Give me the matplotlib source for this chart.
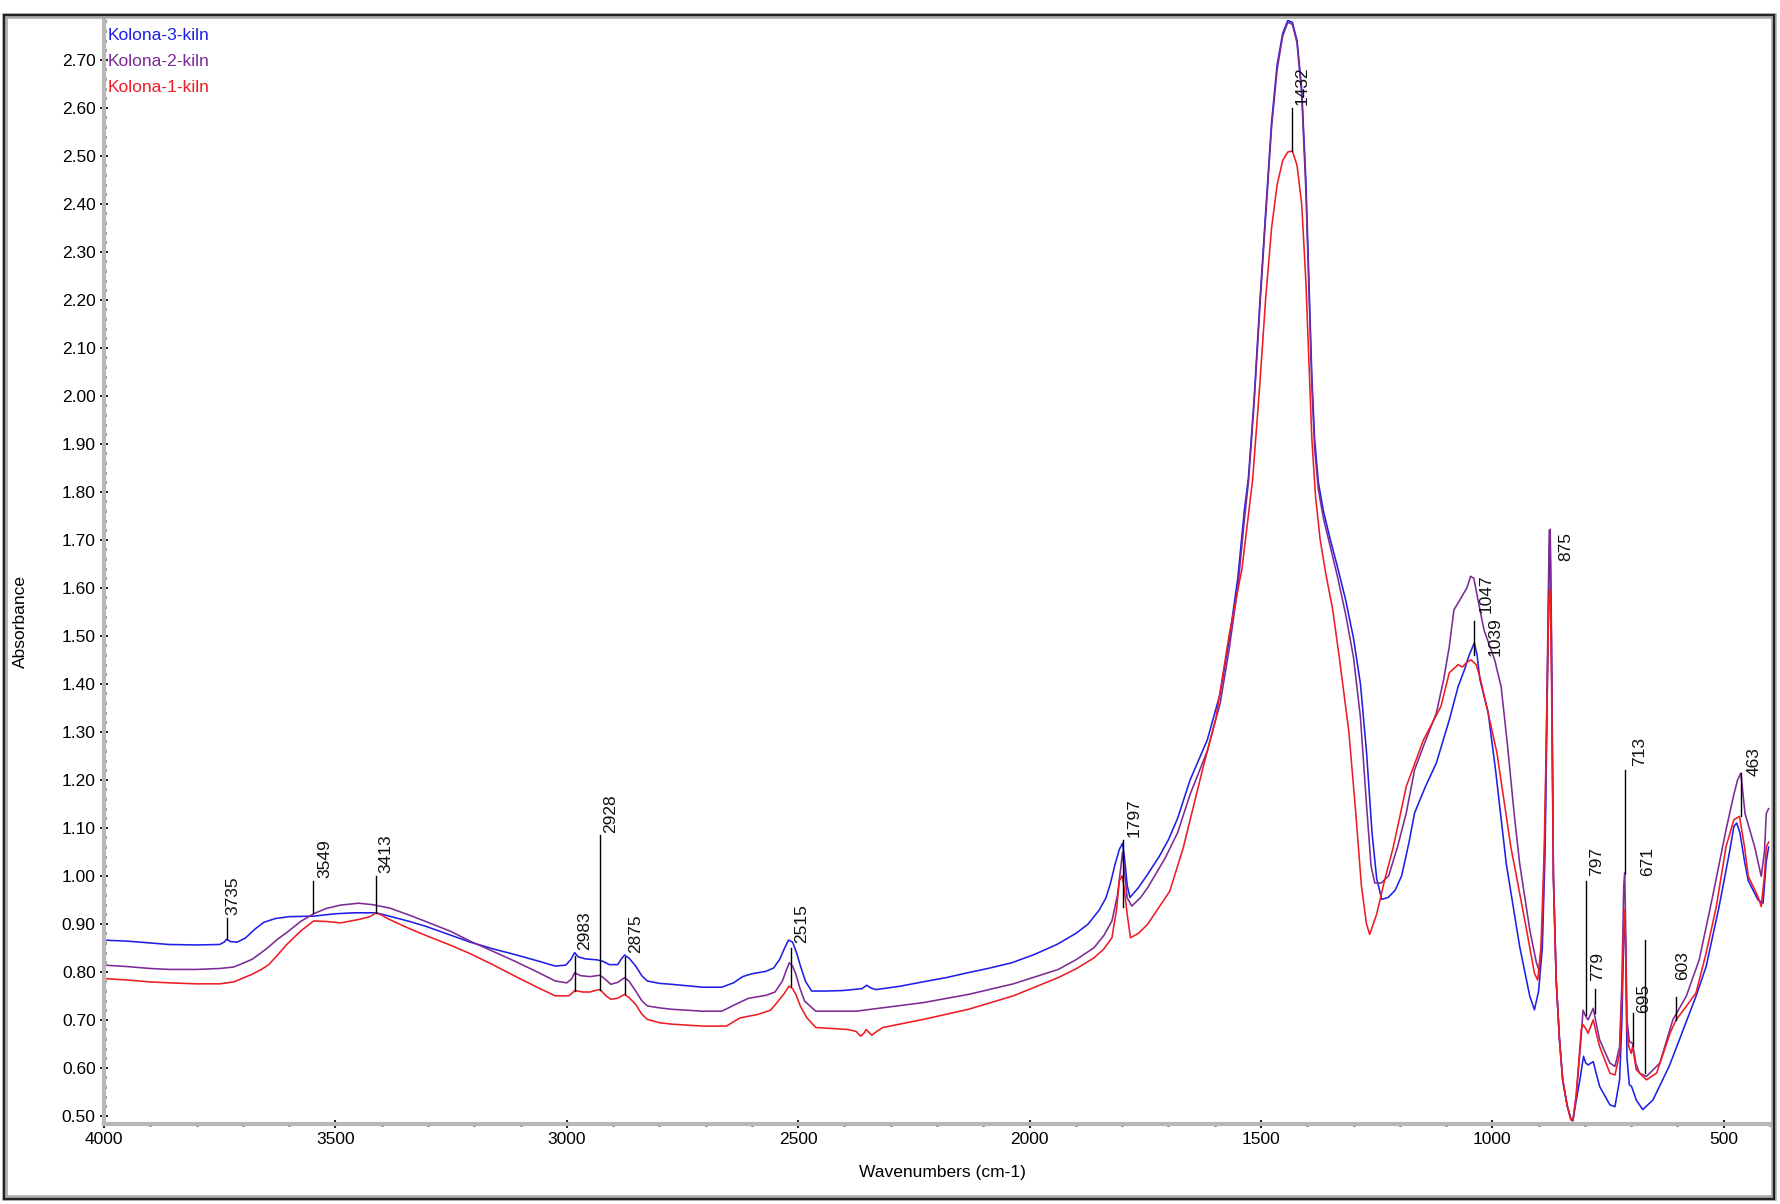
import numpy as np
import matplotlib.pyplot as plt
from matplotlib.ticker import MultipleLocator, FormatStrFormatter
from matplotlib.patches import Rectangle

plt.rcParams['font.family'] = ['Liberation Sans', 'DejaVu Sans']

#================================================================================
# spectra: (wavenumber cm-1, absorbance)
#================================================================================
kolona3 = np.array([
    (4000, 0.866), (3950, 0.864), (3900, 0.860), (3860, 0.857), (3800, 0.856), (3750, 0.857),
    (3740, 0.862), (3735, 0.868), (3727, 0.863), (3712, 0.862), (3695, 0.870), (3675, 0.888),
    (3655, 0.903), (3630, 0.911), (3600, 0.915), (3547, 0.916), (3500, 0.921), (3460, 0.923),
    (3412, 0.923), (3383, 0.916), (3340, 0.905), (3305, 0.895), (3250, 0.876), (3209, 0.862),
    (3160, 0.848), (3112, 0.836), (3060, 0.822), (3025, 0.812), (3002, 0.814), (2991, 0.826),
    (2983, 0.840), (2975, 0.831), (2960, 0.827), (2935, 0.825), (2922, 0.822), (2908, 0.815),
    (2890, 0.815), (2882, 0.827), (2875, 0.835), (2865, 0.828), (2851, 0.812), (2838, 0.792),
    (2826, 0.781), (2800, 0.776), (2773, 0.774), (2707, 0.768), (2665, 0.768), (2640, 0.777),
    (2620, 0.790), (2600, 0.796), (2570, 0.801), (2553, 0.808), (2540, 0.826), (2530, 0.848),
    (2521, 0.866), (2512, 0.862), (2503, 0.838), (2495, 0.812), (2484, 0.780), (2471, 0.760),
    (2440, 0.760), (2404, 0.761), (2362, 0.765), (2352, 0.772), (2342, 0.766), (2332, 0.763),
    (2280, 0.770), (2231, 0.779), (2180, 0.788), (2134, 0.798), (2090, 0.807), (2038, 0.819),
    (1990, 0.836), (1941, 0.857), (1900, 0.880), (1874, 0.899), (1850, 0.928), (1835, 0.954),
    (1825, 0.985), (1815, 1.025), (1806, 1.055), (1799, 1.068), (1794, 1.030), (1789, 0.980),
    (1783, 0.955), (1765, 0.975), (1745, 1.003), (1720, 1.040), (1700, 1.075), (1680, 1.120),
    (1653, 1.200), (1616, 1.283), (1588, 1.380), (1569, 1.490), (1550, 1.620), (1536, 1.760),
    (1527, 1.830), (1515, 1.990), (1502, 2.200), (1490, 2.380), (1477, 2.570), (1465, 2.690),
    (1453, 2.755), (1442, 2.782), (1432, 2.778), (1422, 2.740), (1412, 2.640), (1403, 2.450),
    (1396, 2.230), (1390, 2.040), (1384, 1.910), (1376, 1.820), (1365, 1.760), (1350, 1.700),
    (1335, 1.645), (1317, 1.575), (1300, 1.495), (1285, 1.400), (1272, 1.260), (1260, 1.090),
    (1250, 0.995), (1239, 0.951), (1225, 0.955), (1210, 0.970), (1196, 1.000), (1180, 1.070),
    (1168, 1.131), (1145, 1.185), (1121, 1.235), (1093, 1.325), (1074, 1.394), (1060, 1.430),
    (1050, 1.460), (1039, 1.485), (1033, 1.460), (1027, 1.410), (1009, 1.340), (993, 1.220),
    (970, 1.026), (941, 0.853), (919, 0.749), (909, 0.721), (900, 0.760), (892, 0.850),
    (886, 1.050), (881, 1.400), (877, 1.680), (875, 1.700), (872, 1.450), (868, 1.000),
    (862, 0.783), (855, 0.660), (848, 0.575), (838, 0.520), (830, 0.492), (826, 0.490),
    (819, 0.530), (810, 0.580), (803, 0.624), (798, 0.610), (793, 0.606), (782, 0.613),
    (776, 0.590), (768, 0.561), (746, 0.523), (735, 0.519), (725, 0.575), (720, 0.700),
    (716, 0.880), (714, 0.930), (712, 0.850), (709, 0.620), (704, 0.565), (699, 0.561),
    (689, 0.533), (675, 0.513), (653, 0.533), (618, 0.603), (596, 0.658), (560, 0.749),
    (538, 0.811), (510, 0.936), (488, 1.047), (478, 1.103), (472, 1.110), (465, 1.090),
    (455, 1.030), (447, 0.990), (426, 0.950), (415, 0.943), (408, 1.030), (403, 1.060),
])

kolona2 = np.array([
    (4000, 0.814), (3950, 0.811), (3900, 0.807), (3857, 0.805), (3800, 0.805), (3750, 0.807),
    (3720, 0.810), (3707, 0.815), (3680, 0.826), (3660, 0.840), (3644, 0.852), (3625, 0.868),
    (3605, 0.882), (3575, 0.905), (3547, 0.921), (3520, 0.932), (3489, 0.939), (3450, 0.943),
    (3420, 0.940), (3383, 0.933), (3340, 0.918), (3305, 0.905), (3250, 0.884), (3209, 0.864),
    (3160, 0.843), (3112, 0.822), (3060, 0.798), (3025, 0.781), (3000, 0.777), (2990, 0.785),
    (2983, 0.798), (2970, 0.792), (2950, 0.790), (2928, 0.793), (2915, 0.783), (2905, 0.774),
    (2890, 0.778), (2875, 0.788), (2865, 0.780), (2851, 0.760), (2838, 0.740), (2826, 0.729),
    (2800, 0.725), (2773, 0.722), (2707, 0.718), (2665, 0.718), (2636, 0.732), (2607, 0.745),
    (2570, 0.751), (2550, 0.758), (2534, 0.781), (2525, 0.805), (2519, 0.819), (2512, 0.812),
    (2505, 0.795), (2496, 0.765), (2486, 0.739), (2462, 0.718), (2375, 0.718), (2326, 0.724),
    (2229, 0.736), (2132, 0.753), (2035, 0.775), (1938, 0.805), (1900, 0.825), (1861, 0.850),
    (1840, 0.875), (1822, 0.906), (1810, 0.960), (1803, 1.016), (1799, 1.050), (1795, 1.010),
    (1789, 0.954), (1779, 0.937), (1760, 0.955), (1745, 0.975), (1707, 1.037), (1680, 1.090),
    (1653, 1.170), (1616, 1.260), (1588, 1.360), (1569, 1.470), (1550, 1.600), (1536, 1.740),
    (1527, 1.820), (1515, 1.980), (1502, 2.190), (1490, 2.370), (1477, 2.560), (1465, 2.680),
    (1453, 2.750), (1442, 2.778), (1432, 2.774), (1422, 2.735), (1412, 2.630), (1403, 2.430),
    (1396, 2.210), (1390, 2.020), (1384, 1.890), (1376, 1.805), (1365, 1.745), (1350, 1.685),
    (1335, 1.625), (1317, 1.545), (1300, 1.455), (1285, 1.330), (1272, 1.150), (1262, 1.020),
    (1254, 0.985), (1240, 0.985), (1224, 1.000), (1205, 1.060), (1186, 1.131), (1168, 1.221),
    (1145, 1.280), (1121, 1.339), (1105, 1.410), (1093, 1.478), (1083, 1.554), (1070, 1.575),
    (1055, 1.600), (1047, 1.624), (1040, 1.620), (1030, 1.570), (1018, 1.512), (995, 1.450),
    (981, 1.394), (967, 1.270), (953, 1.131), (941, 1.026), (919, 0.887), (905, 0.820),
    (898, 0.800), (892, 0.880), (886, 1.100), (881, 1.450), (877, 1.720), (875, 1.722),
    (872, 1.500), (868, 1.000), (862, 0.783), (855, 0.660), (848, 0.575), (838, 0.520),
    (830, 0.492), (826, 0.490), (819, 0.540), (810, 0.640), (804, 0.720), (797, 0.705),
    (793, 0.700), (782, 0.724), (775, 0.690), (768, 0.658), (746, 0.610), (735, 0.603),
    (725, 0.644), (720, 0.780), (716, 0.980), (714, 1.006), (712, 0.900), (709, 0.700),
    (704, 0.655), (697, 0.651), (690, 0.610), (682, 0.589), (667, 0.582), (638, 0.610),
    (610, 0.700), (581, 0.749), (553, 0.825), (524, 0.957), (495, 1.096), (478, 1.170),
    (470, 1.200), (463, 1.214), (454, 1.130), (433, 1.060), (419, 0.999), (412, 1.050),
    (408, 1.130), (403, 1.140),
])

kolona1 = np.array([
    (4000, 0.786), (3950, 0.783), (3900, 0.779), (3857, 0.777), (3800, 0.775), (3750, 0.775),
    (3720, 0.779), (3707, 0.784), (3680, 0.795), (3660, 0.805), (3644, 0.815), (3625, 0.835),
    (3605, 0.857), (3575, 0.885), (3547, 0.906), (3520, 0.905), (3489, 0.902), (3450, 0.909),
    (3425, 0.915), (3412, 0.923), (3400, 0.918), (3383, 0.909), (3340, 0.890), (3305, 0.876),
    (3250, 0.855), (3209, 0.838), (3160, 0.815), (3112, 0.791), (3060, 0.766), (3025, 0.750),
    (2996, 0.750), (2988, 0.756), (2983, 0.761), (2965, 0.758), (2950, 0.758), (2935, 0.762),
    (2928, 0.763), (2915, 0.750), (2905, 0.743), (2890, 0.745), (2875, 0.753), (2865, 0.746),
    (2851, 0.732), (2838, 0.712), (2826, 0.701), (2800, 0.694), (2773, 0.691), (2707, 0.687),
    (2655, 0.687), (2626, 0.704), (2588, 0.711), (2560, 0.720), (2549, 0.732), (2530, 0.755),
    (2520, 0.770), (2512, 0.765), (2505, 0.753), (2495, 0.728), (2481, 0.704), (2462, 0.684),
    (2394, 0.680), (2375, 0.676), (2365, 0.666), (2358, 0.672), (2353, 0.680), (2347, 0.674),
    (2341, 0.668), (2330, 0.676), (2317, 0.684), (2229, 0.701), (2132, 0.722), (2035, 0.750),
    (1938, 0.788), (1900, 0.806), (1861, 0.829), (1840, 0.847), (1822, 0.871), (1812, 0.930),
    (1806, 0.990), (1800, 1.000), (1795, 0.970), (1789, 0.920), (1782, 0.871), (1765, 0.880),
    (1745, 0.899), (1720, 0.935), (1697, 0.968), (1668, 1.058), (1625, 1.226), (1597, 1.330),
    (1569, 1.500), (1541, 1.640), (1518, 1.825), (1502, 2.030), (1490, 2.200), (1477, 2.350),
    (1465, 2.440), (1453, 2.490), (1442, 2.508), (1432, 2.510), (1422, 2.480), (1412, 2.400),
    (1403, 2.240), (1396, 2.060), (1390, 1.910), (1382, 1.790), (1372, 1.700), (1360, 1.630),
    (1345, 1.555), (1330, 1.450), (1310, 1.300), (1295, 1.130), (1283, 0.980), (1272, 0.900),
    (1265, 0.878), (1250, 0.920), (1233, 0.990), (1214, 1.060), (1186, 1.186), (1149, 1.283),
    (1111, 1.353), (1093, 1.423), (1074, 1.440), (1065, 1.435), (1055, 1.445), (1046, 1.450),
    (1035, 1.440), (1027, 1.415), (1009, 1.339), (990, 1.256), (971, 1.131), (960, 1.060),
    (948, 1.000), (926, 0.887), (909, 0.797), (902, 0.783), (895, 0.850), (888, 1.050),
    (882, 1.350), (878, 1.580), (875, 1.596), (872, 1.400), (868, 0.990), (862, 0.783),
    (855, 0.660), (848, 0.575), (838, 0.520), (830, 0.492), (826, 0.490), (819, 0.540),
    (808, 0.679), (804, 0.690), (797, 0.680), (793, 0.672), (782, 0.700), (775, 0.670),
    (768, 0.644), (746, 0.589), (735, 0.585), (725, 0.630), (720, 0.750), (716, 0.900),
    (714, 0.930), (712, 0.850), (709, 0.680), (705, 0.644), (700, 0.630), (697, 0.644),
    (689, 0.596), (667, 0.575), (645, 0.589), (616, 0.672), (603, 0.700), (581, 0.728),
    (560, 0.756), (538, 0.839), (516, 0.936), (495, 1.061), (478, 1.117), (466, 1.124),
    (455, 1.060), (447, 0.999), (426, 0.957), (419, 0.936), (412, 1.000), (408, 1.060),
    (403, 1.070),
])

series_names = ['Kolona-3-kiln', 'Kolona-2-kiln', 'Kolona-1-kiln']
series_colors = ['#1f1fe6', '#7d2a96', '#ee1c24']

# peak labels: text, leader x, leader from, leader to, text x, text bottom
peak_text = ['3735', '3549', '3413', '2983', '2928', '2875', '2515', '1797', '1432',
             '1047', '1039', '875', '797', '779', '713', '695', '671', '603', '463']
peak_x = [3735, 3549, 3413, 2983, 2928, 2875, 2515, 1797, 1432,
          1047, 1039, 875, 797, 779, 713, 695, 671, 603, 463]
peak_lo = [0.868, 0.923, 0.923, 0.761, 0.763, 0.753, 0.770, 0.935, 2.510,
           1.624, 1.460, 1.722, 0.710, 0.715, 1.006, 0.645, 0.589, 0.700, 1.124]
peak_hi = [0.912, 0.989, 0.999, 0.833, 1.085, 0.830, 0.850, 1.075, 2.600,
           1.624, 1.530, 1.722, 0.990, 0.765, 1.220, 0.714, 0.867, 0.748, 1.214]
text_x = [3722, 3522, 3390, 2962, 2905, 2852, 2492, 1775, 1410,
          1013, 995, 842, 775, 772, 682, 673, 664, 588, 434]
text_y = [0.918, 0.995, 1.005, 0.845, 1.090, 0.840, 0.860, 1.080, 2.605,
          1.547, 1.457, 1.655, 1.000, 0.780, 1.228, 0.714, 1.000, 0.783, 1.207]

#================================================================================
fig = plt.figure(figsize=(17.8, 12.04), dpi=100)
ax = fig.add_axes([104 / 1780, 1 - 1124 / 1204, (1770 - 104) / 1780, (1124 - 20) / 1204])

for data, name, color in zip([kolona3, kolona2, kolona1], series_names, series_colors):
    ax.plot(data[:, 0], data[:, 1], color=color, lw=1.15, label=name)

# peak annotations
for t, x, lo, hi, tx, ty in zip(peak_text, peak_x, peak_lo, peak_hi, text_x, text_y):
    if hi > lo:
        ax.plot([x, x], [lo, hi], color='black', lw=1.0)
    ax.text(tx, ty, t, rotation=90, ha='center', va='bottom', fontsize=12.5, color='#111111')

ax.set_xlim(4000, 400)
ax.set_ylim(0.483, 2.783)

ax.xaxis.set_major_locator(MultipleLocator(500))
ax.xaxis.set_minor_locator(MultipleLocator(100))
ax.yaxis.set_major_locator(MultipleLocator(0.1))
ax.yaxis.set_minor_locator(MultipleLocator(0.02))
ax.yaxis.set_major_formatter(FormatStrFormatter('%.2f'))

for side in ['top', 'right']:
    ax.spines[side].set_visible(False)
for side in ['left', 'bottom']:
    ax.spines[side].set_color('#b8b8b8')
    ax.spines[side].set_linewidth(3)

ax.tick_params(which='major', length=6, width=1.5, color='#222222', direction='inout',
               labelsize=12.5, pad=3)
ax.tick_params(which='minor', length=2.5, width=2, color='#222222', direction='inout')

# legend is plain coloured text in the top left corner
for i, (name, color) in enumerate(zip(series_names, series_colors)):
    fig.text(108 / 1780, 1 - (35 + 26.5 * i) / 1204, name, color=color, fontsize=12.5,
             ha='left', va='center')

fig.text(942 / 1780, 1 - 1172 / 1204, 'Wavenumbers (cm-1)', fontsize=12.5, ha='center', va='center')
fig.text(20 / 1780, 1 - 622 / 1204, 'Absorbance', fontsize=12.5, rotation=90, ha='center', va='center')

# outer frame
fig.patches.append(Rectangle((5 / 1780, 1 - 1198 / 1204), 1769 / 1780, 1182 / 1204,
                             transform=fig.transFigure, fill=False, ec='#aaaaaa', lw=4))
fig.patches.append(Rectangle((4 / 1780, 1 - 1199 / 1204), 1770 / 1780, 1184 / 1204,
                             transform=fig.transFigure, fill=False, ec='#222222', lw=1.6))

plt.savefig('out.png', dpi=100)
